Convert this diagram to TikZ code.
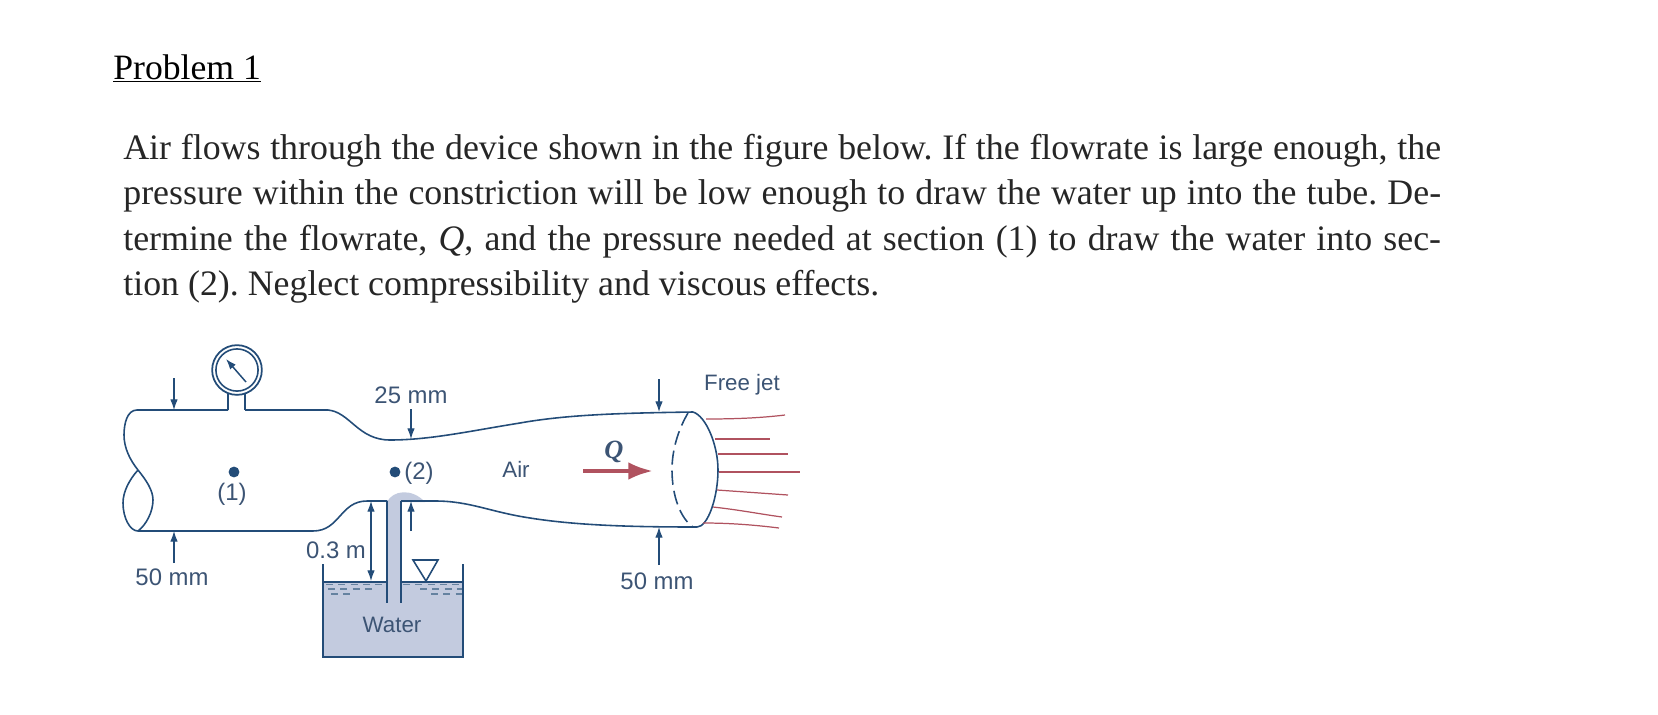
\documentclass[tikz,border=0pt]{standalone}
\usepackage{fontspec}
\setmainfont{Liberation Serif}
\setsansfont{Liberation Sans}
\usetikzlibrary{positioning,arrows.meta}
\tikzset{>={Latex[length=6pt,width=4.2pt]}}
\definecolor{wallblue}{HTML}{234C78}
\definecolor{labelblue}{HTML}{3C5474}
\definecolor{waterblue}{HTML}{C3CBDF}
\definecolor{jetred}{HTML}{B0525F}
\tikzset{
  wall/.style={draw=wallblue, line width=0.9pt},
  dimarrow/.style={->, draw=wallblue, line width=0.6pt},
  jetline/.style={draw=jetred, line width=0.7pt},
  ripple/.style={draw=wallblue!70!white, line width=0.6pt, dash pattern=on 4pt off 3pt},
  figlabel/.style={text=labelblue, font=\sffamily\fontsize{13.6}{16}\selectfont, inner sep=0pt},
  narrowlabel/.style={text=labelblue, font=\sffamily\fontsize{12.7}{16}\selectfont, inner sep=0pt},
  dot/.style={circle, fill=wallblue, inner sep=0pt, minimum size=6.2pt}
}
\begin{document}
\begin{tikzpicture}[x=0.02cm, y=-0.02cm]
  \useasboundingbox (0,0) rectangle (1658,714);
  % text
  \node[anchor=base west, inner sep=0pt, text=black, font=\fontsize{20.3}{24}\selectfont] (title) at (113,79) {\underline{Problem 1}};
  \node[anchor=north west, inner sep=0pt, text=black!85, text width=26.36cm, align=justify, font=\fontsize{20.4}{25.9}\selectfont] (problemtext) at (123,133.6) {\frenchspacing
    Air flows through the device shown in the figure below. If the flowrate is large enough, the\linebreak
    pressure within the constriction will be low enough to draw the water up into the tube. De-\linebreak
    termine the flowrate, \textit{Q}, and the pressure needed at section (1) to draw the water into sec-\linebreak
    tion (2). Neglect compressibility and viscous effects.\par};
  % water
  \fill[waterblue] (323,582) rectangle (463,657);
  \fill[waterblue] (387,603) rectangle (401,500);
  \fill[waterblue] (387,502) .. controls (393,490) and (412,488) .. (425,502) -- cycle;
  \draw[wall] (323,564) -- (323,657) -- (463,657) -- (463,564);
  \draw[wall] (323,582) -- (387,582) (401,582) -- (463,582);
  \draw[wall] (387,501) -- (387,603);
  \draw[wall] (401,501) -- (401,603);
  \draw[ripple] (326,584.5) -- (386,584.5);
  \draw[ripple] (328,589) -- (372,589);
  \draw[ripple] (331,594) -- (352,594);
  \draw[ripple] (403,584.5) -- (462,584.5);
  \draw[ripple] (420,589) -- (462,589);
  \draw[ripple] (431,594) -- (462,594);
  % pipe
  \coordinate (topleft) at (137,410);
  \coordinate (botleft) at (138,531);
  \coordinate (cross) at (138,470);
  \coordinate (rimtop) at (693,412);
  \coordinate (rimbot) at (697,527);
  \draw[wall] (cross) .. controls (130,460) and (124,448) .. (124,435) .. controls (124,424) and (127,410) .. (topleft) -- (228,410);
  \draw[wall] (245,410) -- (328,410) .. controls (350,412) and (358,440) .. (390,440) .. controls (430,440) and (470,431) .. (520,423) .. controls (570,414) and (630,413) .. (rimtop);
  \draw[wall] (cross) .. controls (129,480) and (123,492) .. (123,503) .. controls (123,518) and (130,531) .. (botleft) .. controls (146,525) and (153,512) .. (153,500) .. controls (153,490) and (146,480) .. (cross);
  \draw[wall] (botleft) -- (313,531) .. controls (340,531) and (340,501) .. (367,501) -- (387,501);
  \draw[wall] (401,501) -- (435,501) .. controls (470,501) and (490,512) .. (530,518) .. controls (580,526) and (640,527) .. (rimbot);
  \draw[wall] (rimtop) .. controls (706,416) and (718,445) .. (718,470) .. controls (718,497) and (708,527) .. (rimbot);
  \draw[wall, dash pattern=on 8pt off 3.5pt] (688,413) .. controls (678,430) and (672,450) .. (672,470) .. controls (672,495) and (680,518) .. (693,527);
  % gauge
  \node[circle, draw=wallblue, line width=1pt, minimum size=28.3pt, inner sep=0pt] (gauge) at (237,370) {};
  \node[circle, draw=wallblue, line width=0.9pt, minimum size=24pt, inner sep=0pt] (gaugeface) at (237,370) {};
  \draw[wall] (228,394) -- (228,410);
  \draw[wall] (245,394) -- (245,410);
  \coordinate (needlefoot) at (246,382);
  \coordinate (needletip) at (226,359);
  \draw[dimarrow, line width=0.85pt] (needlefoot) -- (needletip);
  % dimension arrows
  \coordinate (d1start) at (174,378);
  \coordinate (d1end) at (174,410);
  \draw[dimarrow] (d1start) -- (d1end);
  \coordinate (d2start) at (174,563);
  \coordinate (d2end) at (174,531);
  \draw[dimarrow] (d2start) -- (d2end);
  \coordinate (d3start) at (411,409);
  \coordinate (d3end) at (411,439);
  \draw[dimarrow] (d3start) -- (d3end);
  \coordinate (d4start) at (411,531);
  \coordinate (d4end) at (411,501);
  \draw[dimarrow] (d4start) -- (d4end);
  \coordinate (d5start) at (659,379);
  \coordinate (d5end) at (659,412);
  \draw[dimarrow] (d5start) -- (d5end);
  \coordinate (d6start) at (659,565);
  \coordinate (d6end) at (659,527);
  \draw[dimarrow] (d6start) -- (d6end);
  \coordinate (h1) at (371,501);
  \coordinate (h2) at (371,581);
  \draw[dimarrow, <->] (h1) -- (h2);
  % free surface mark
  \coordinate (s1) at (413,560);
  \coordinate (s2) at (438,560);
  \coordinate (s3) at (426,581);
  \draw[wall] (s1) -- (s2) -- (s3) -- cycle;
  % jet
  \draw[jetline] (706,419) .. controls (735,419) and (760,418) .. (785,415);
  \draw[jetline] (715,439) -- (770,439);
  \draw[jetline] (718,454) -- (788,454);
  \draw[jetline] (719,472) -- (800,472);
  \draw[jetline] (717,490) -- (788,495);
  \draw[jetline] (713,507) .. controls (740,510) and (760,514) .. (782,517);
  \draw[jetline] (703,523) .. controls (730,523) and (755,525) .. (779,528);
  \coordinate (qstart) at (583,471);
  \coordinate (qend) at (653,471);
  \draw[-{Latex[length=14pt,width=10pt]}, draw=jetred, fill=jetred, line width=2.3pt] (qstart) -- (qend);
  % labels
  \node[dot] (pt1) at (234,472) {};
  \node[dot] (pt2) at (395,472) {};
  \node[figlabel] (lab1) at (232,494) {(1)};
  \node[figlabel] (lab2) at (419,473) {(2)};
  \node[figlabel] (dia1) at (172,577) {50 mm};
  \node[figlabel] (dia2) at (411,395) {25 mm};
  \node[figlabel] (dia3) at (657,581) {50 mm};
  \node[figlabel] (height) at (336,550) {0.3 m};
  \node[narrowlabel] (air) at (516,469) {Air};
  \node[narrowlabel] (water) at (392,625) {Water};
  \node[narrowlabel] (freejet) at (742,385) {Free jet};
  \node[figlabel, font=\rmfamily\itshape\bfseries\fontsize{15}{16}\selectfont] (flowq) at (614,452) {Q};
\end{tikzpicture}
\end{document}
